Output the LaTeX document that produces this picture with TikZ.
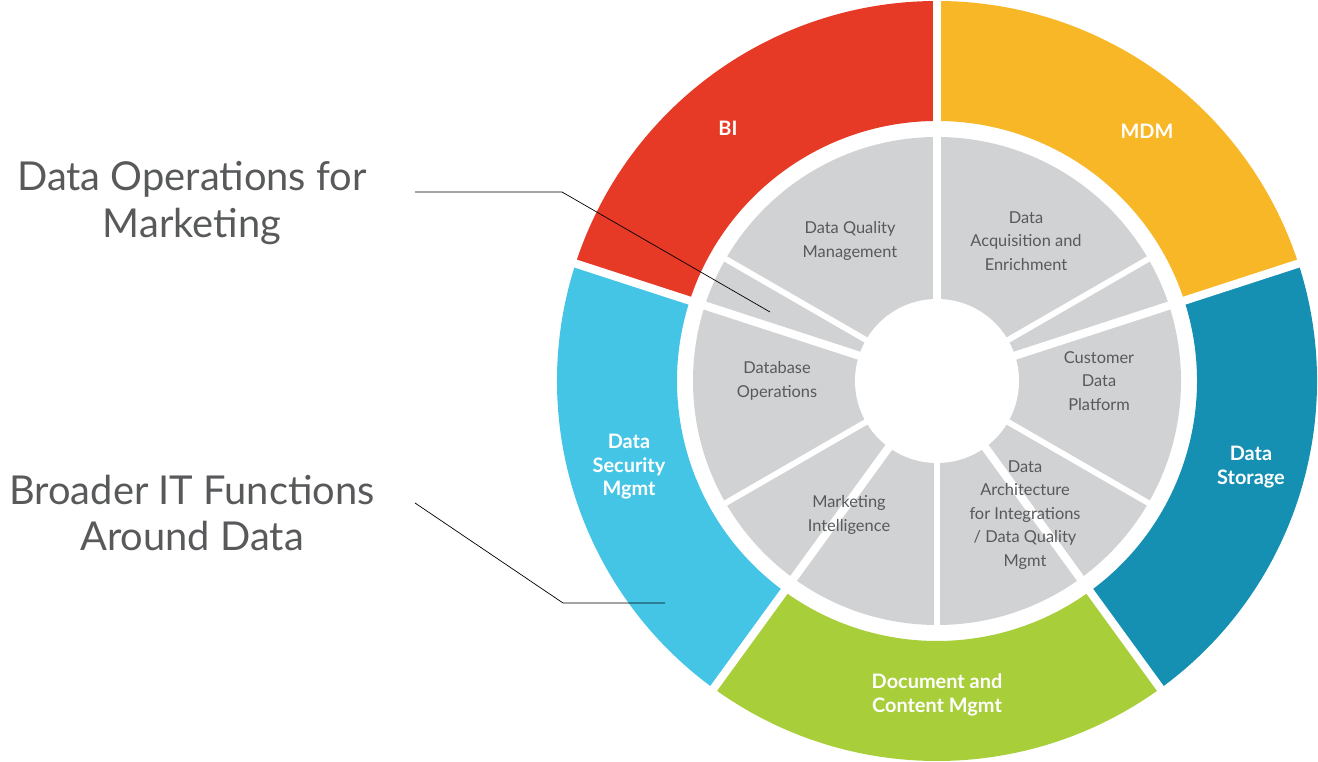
\documentclass[tikz,border=0pt]{standalone}
\usepackage{fontspec}
\setmainfont{Lato}
\definecolor{biRed}{HTML}{E63A27}
\definecolor{mdmYellow}{HTML}{F8B726}
\definecolor{storeBlue}{HTML}{1590B3}
\definecolor{docGreen}{HTML}{A8CE3A}
\definecolor{secBlue}{HTML}{45C5E6}
\definecolor{segGray}{HTML}{D1D2D4}
\definecolor{txtGray}{HTML}{58595B}
\tikzset{
  outerlbl/.style={text=white,font=\fontsize{17}{20}\selectfont\bfseries,align=center},
  innerlbl/.style={text=txtGray,font=\fontsize{14}{20}\selectfont,align=center},
  sidelbl/.style={text=txtGray,font=\fontsize{34}{40}\selectfont,align=center},
  leader/.style={black,line width=0.6pt}
}
\begin{document}
\begin{tikzpicture}[x=0.03cm,y=0.03cm]
\useasboundingbox (0,0) rectangle (1318,762);
\coordinate (C) at (937,381);
% outer ring
\foreach \a/\b/\col in {90/162/biRed,18/90/mdmYellow,-54/18/storeBlue,-126/-54/docGreen,162/234/secBlue}
  \fill[\col] ([shift={(\a:380)}]C) arc[start angle=\a,end angle=\b,radius=380]
    -- ([shift={(\b:260)}]C) arc[start angle=\b,end angle=\a,radius=260] -- cycle;
% inner ring
\fill[segGray] (C) circle[radius=244];
\foreach \a in {90,18,-54,-126,162}
  \draw[white,line width=7pt] (C) -- ++(\a:390);
\foreach \a in {90,30,-30,-90,-150,150}
  \draw[white,line width=5pt] (C) -- ++(\a:250);
\fill[white] (C) circle[radius=82];
% outer labels
\node[outerlbl] (BI) at (728,634) {BI};
\node[outerlbl] (MDM) at (1147,631) {MDM};
\node[outerlbl] (DS) at (1251,295) {Data\\Storage};
\node[outerlbl] (DCM) at (937,67) {Document and\\Content Mgmt};
\node[outerlbl] (DSM) at (629,295) {Data\\Security\\Mgmt};
% inner labels
\node[innerlbl] (DQM) at (850,521) {Data Quality\\Management};
\node[innerlbl] (DAE) at (1026,521) {Data\\Acquisition and\\Enrichment};
\node[innerlbl] (CDP) at (1099,381) {Customer\\Data\\Platform};
\node[innerlbl] (DAI) at (1025,247) {Data\\Architecture\\for Integrations\\/ Data Quality\\Mgmt};
\node[innerlbl] (MI) at (849,247) {Marketing\\Intelligence};
\node[innerlbl] (DO) at (777,381) {Database\\Operations};
% side labels
\node[sidelbl] (DOM) at (192,559) {Data Operations for\\Marketing};
\node[sidelbl] (BIT) at (192,249) {Broader IT Functions\\Around Data};
\coordinate (dom0) at (415,570);
\coordinate (dom1) at (562,570);
\coordinate (dom2) at (770,450);
\coordinate (bit0) at (415,259);
\coordinate (bit1) at (563,159);
\coordinate (bit2) at (665,159);
\draw[leader] (dom0) -- (dom1) -- (dom2);
\draw[leader] (bit0) -- (bit1) -- (bit2);
\end{tikzpicture}
\end{document}
